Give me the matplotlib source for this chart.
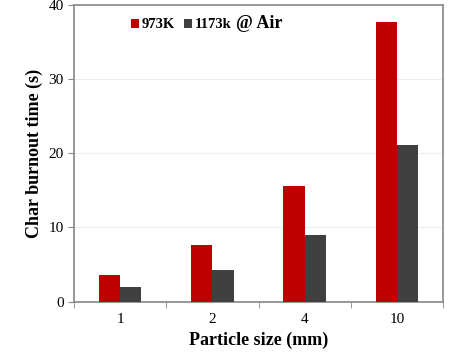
import numpy as np
import matplotlib
matplotlib.use("Agg")
import matplotlib.pyplot as plt

# particle sizes and burnout times
sizes = ["1", "2", "4", "10"]
t_973 = [3.6, 7.7, 15.6, 37.7]
t_1173 = [2.0, 4.3, 9.0, 21.1]

plt.rcParams['font.family'] = ['Liberation Serif', 'DejaVu Serif']

fig, ax = plt.subplots(figsize=(4.74, 3.57), dpi=100)
fig.subplots_adjust(left=0.156, right=0.935, top=0.986, bottom=0.155)

x = np.arange(len(sizes))
w = 0.23
ax.bar(x - w/2, t_973, w, color='#C00000', label='973K', zorder=3)
ax.bar(x + w/2, t_1173, w, color='#404040', label='1173k', zorder=3)

ax.set_xlim(-0.5, len(sizes) - 0.5)
ax.set_ylim(0, 40)
ax.set_yticks([0, 10, 20, 30, 40])
ax.set_xticks(x)
ax.set_xticklabels(sizes)
ax.set_xticks(np.arange(-0.5, len(sizes)), minor=True)
ax.tick_params(axis='x', which='major', length=0, pad=8, labelsize=11)
ax.tick_params(axis='x', which='minor', length=4, color='#888888')
ax.tick_params(axis='y', length=4, color='#888888', labelsize=11)
ax.grid(axis='y', color='#eeeeee', linewidth=0.8, zorder=0)

for s in ax.spines.values():
    s.set_color('#888888')
    s.set_linewidth(1.2)

ax.set_xlabel('Particle size (mm)', fontsize=13, fontweight='bold')
ax.set_ylabel('Char burnout time (s)', fontsize=13, fontweight='bold')

leg = ax.legend(loc='center left', bbox_to_anchor=(0.155, 0.933), ncol=2, frameon=False,
                handlelength=0.55, handleheight=0.55, handletextpad=0.2,
                columnspacing=0.6, borderpad=0, borderaxespad=0,
                prop={'weight': 'bold', 'size': 10.5})
ax.text(0.44, 0.937, '@ Air', transform=ax.transAxes, fontsize=13, fontweight='bold',
        va='center', ha='left')

fig.savefig('out.png', dpi=100)
